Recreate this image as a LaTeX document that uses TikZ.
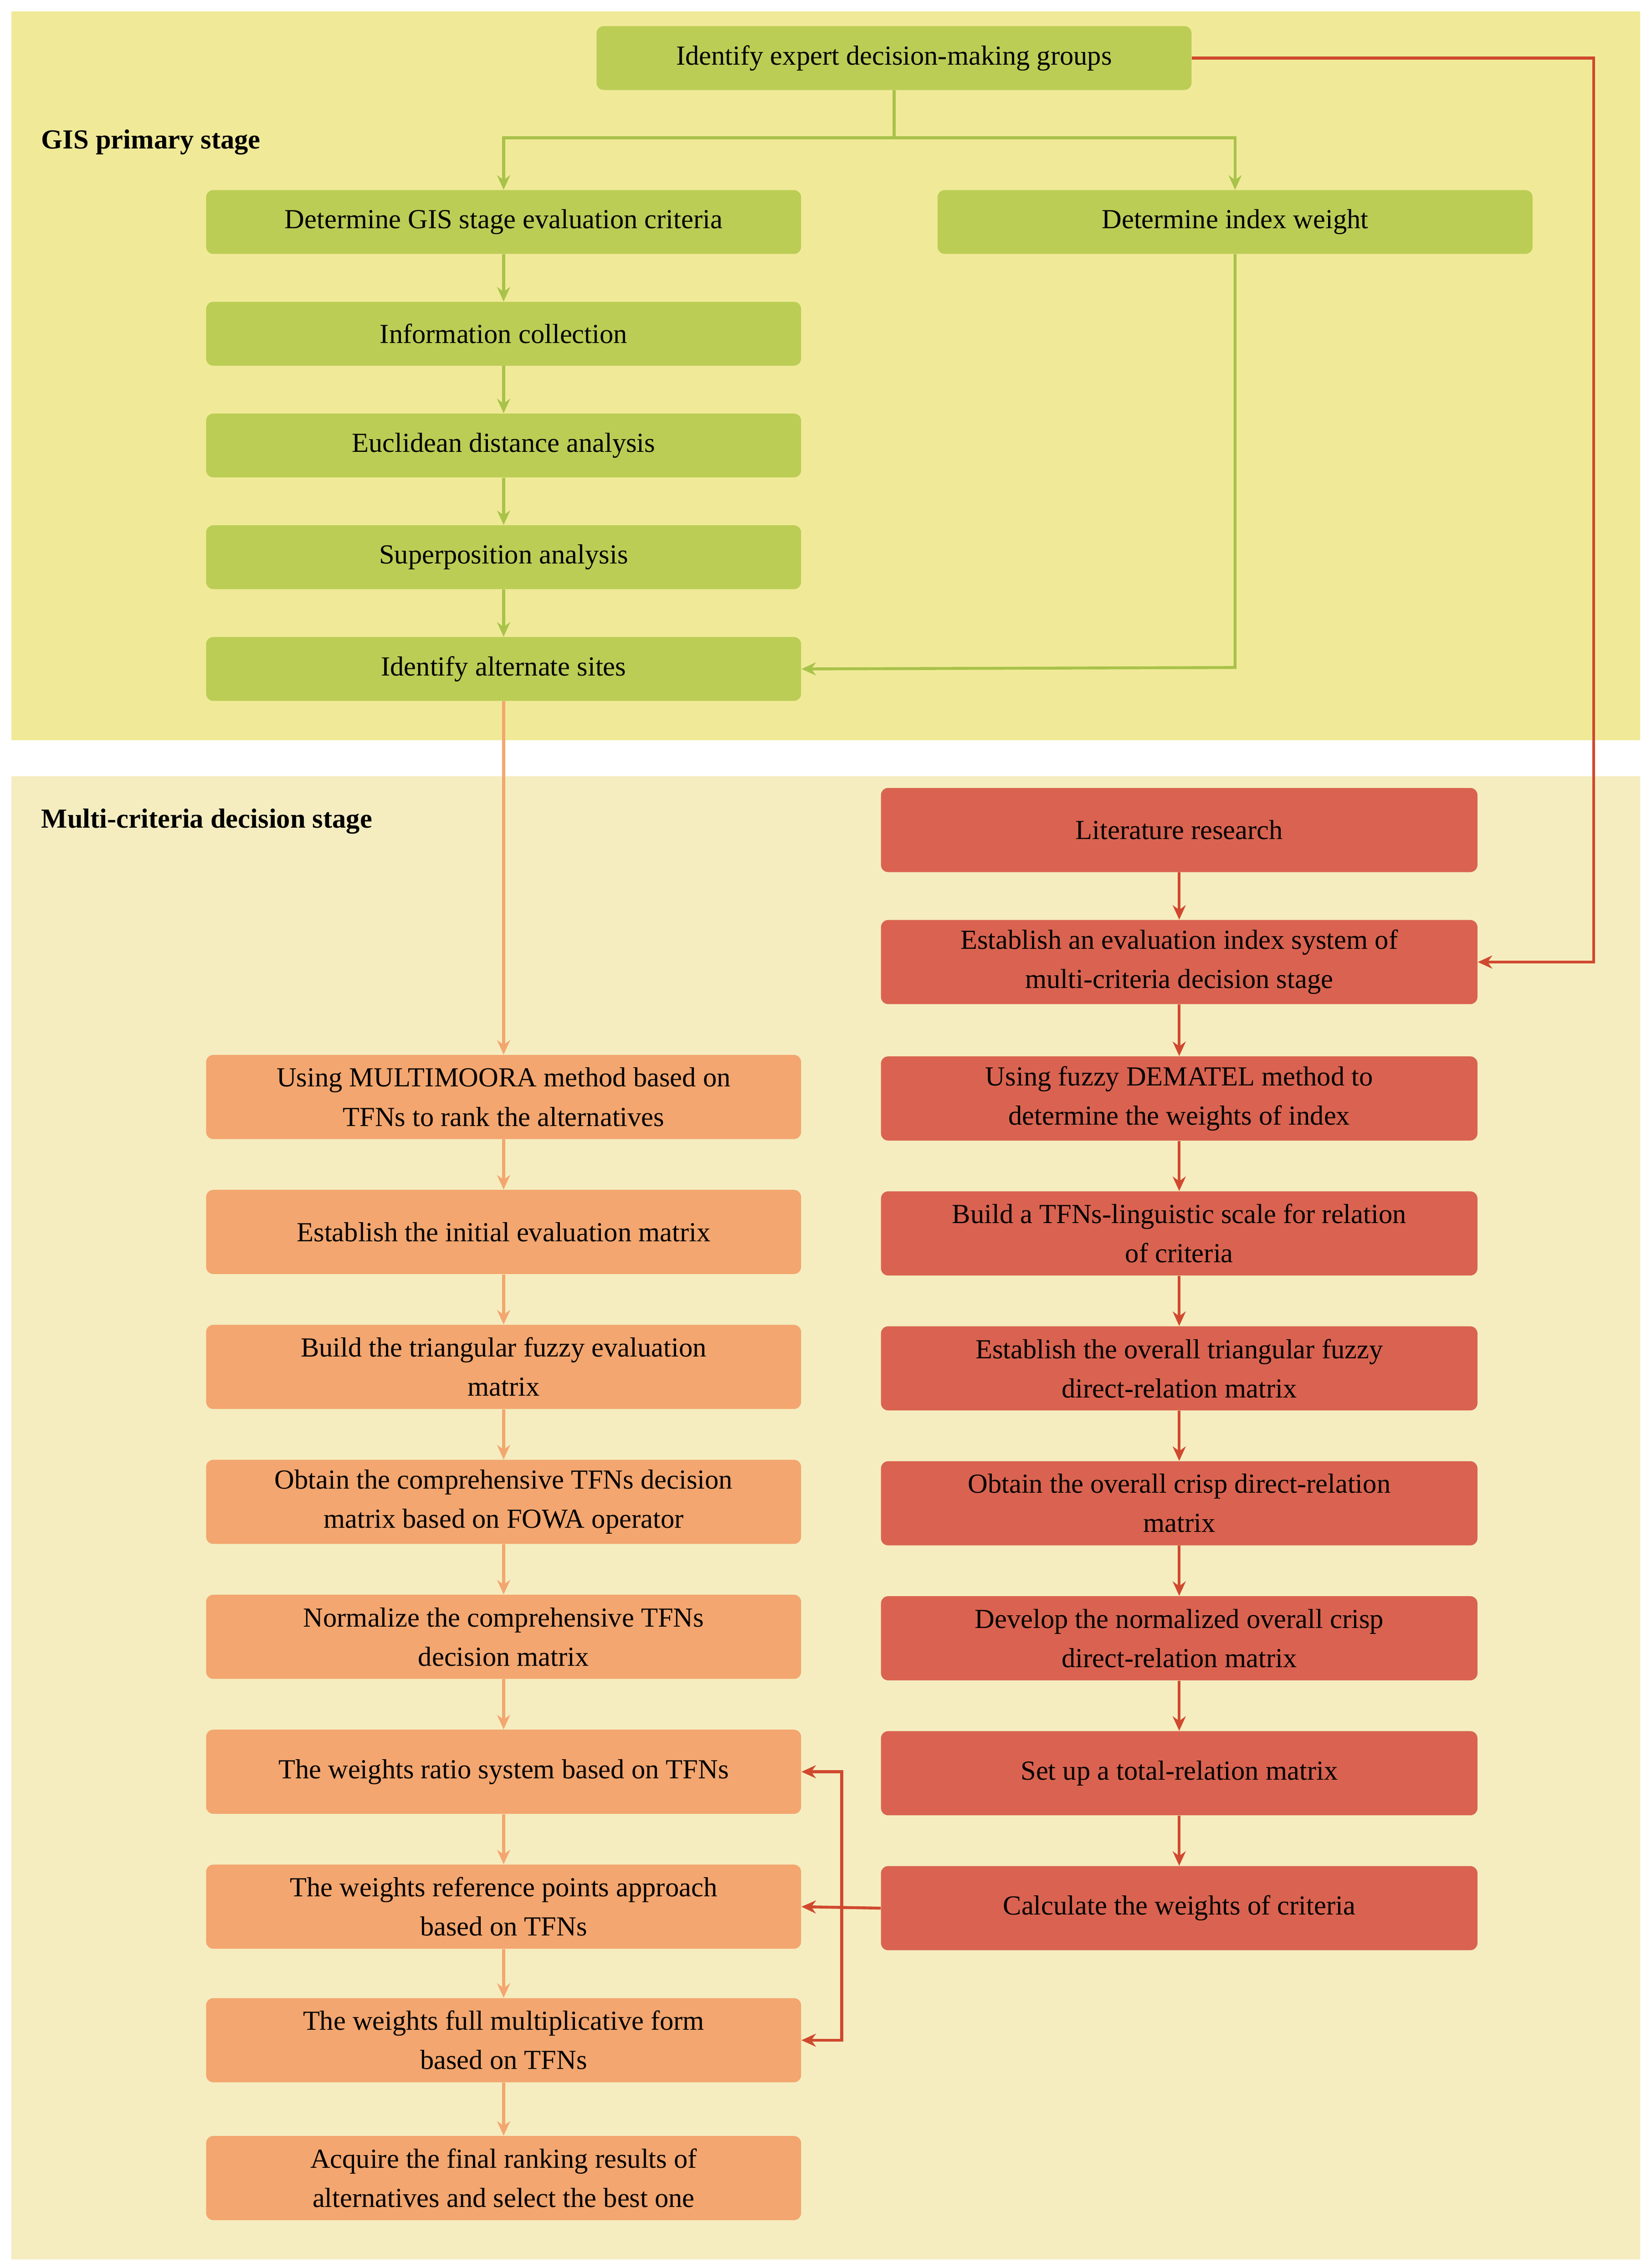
\documentclass[tikz,border=0pt]{standalone}
\usepackage{fontspec}
\setmainfont{Liberation Serif}
\usetikzlibrary{arrows.meta}
\definecolor{bgtop}{HTML}{F0EA98}
\definecolor{bgbot}{HTML}{F5EDC0}
\definecolor{gbox}{HTML}{BBCD55}
\definecolor{gline}{HTML}{A9C24A}
\definecolor{obox}{HTML}{F3A66F}
\definecolor{rbox}{HTML}{D96350}
\definecolor{rline}{HTML}{D0492F}
\begin{document}
\begin{tikzpicture}[x=1pt,y=-1pt,
  base/.style={rounded corners=5pt,align=center,font=\fontsize{19}{27}\selectfont,text=black,inner sep=0pt},
  gb/.style={base,fill=gbox,minimum width=410pt,minimum height=44pt},
  ob/.style={base,fill=obox,minimum width=410pt,minimum height=58pt},
  rb/.style={base,fill=rbox,minimum width=411pt,minimum height=58pt},
  ga/.style={draw=gline,line width=2pt,-{Stealth[length=10pt,width=9pt]}},
  oa/.style={draw=obox,line width=2pt,-{Stealth[length=10pt,width=9pt]}},
  ra/.style={draw=rline,line width=2pt,-{Stealth[length=10pt,width=9pt]}},
  lab/.style={font=\bfseries\fontsize{19}{23}\selectfont,anchor=west}]
\useasboundingbox (0,0) rectangle (1138,1563);
\fill[white] (0,0) rectangle (1138,1563);
\fill[bgtop] (8,8) rectangle (1130,510);
\fill[bgbot] (8,535) rectangle (1130,1557);
\node[lab] (l1) at (25,98) {GIS primary stage};
\node[lab] (l2) at (25,566) {Multi-criteria decision stage};
\node[gb] (t) at (616,40) {Identify expert decision-making groups};
\node[gb] (g1) at (347,153) {Determine GIS stage evaluation criteria};
\node[gb] (iw) at (851,153) {Determine index weight};
\node[gb] (g2) at (347,230) {Information collection};
\node[gb] (g3) at (347,307) {Euclidean distance analysis};
\node[gb] (g4) at (347,384) {Superposition analysis};
\node[gb] (g5) at (347,461) {Identify alternate sites};
\foreach \n/\y/\s in {r1/572/{Literature research},r2/663/{Establish an evaluation index system of\\multi-criteria decision stage},r3/757/{Using fuzzy DEMATEL method to\\determine the weights of index},r4/850/{Build a TFNs-linguistic scale for relation\\of criteria},r5/943/{Establish the overall triangular fuzzy\\direct-relation matrix},r6/1036/{Obtain the overall crisp direct-relation\\matrix},r7/1129/{Develop the normalized overall crisp\\direct-relation matrix},r8/1222/{Set up a total-relation matrix},r9/1315/{Calculate the weights of criteria}}
  \node[rb] (\n) at (812.5,\y) {\s};
\foreach \n/\y/\s in {o1/756/{Using MULTIMOORA method based on\\TFNs to rank the alternatives},o2/849/{Establish the initial evaluation matrix},o3/942/{Build the triangular fuzzy evaluation\\matrix},o4/1035/{Obtain the comprehensive TFNs decision\\matrix based on FOWA operator},o5/1128/{Normalize the comprehensive TFNs\\decision matrix},o6/1221/{The weights ratio system based on TFNs},o7/1314/{The weights reference points approach\\based on TFNs},o8/1406/{The weights full multiplicative form\\based on TFNs},o9/1501/{Acquire the final ranking results of\\alternatives and select the best one}}
  \node[ob] (\n) at (347,\y) {\s};
\coordinate (sp) at (616,95);
\draw[draw=gline,line width=2pt] (t.south) -- (sp);
\draw[ga] (sp) -| (g1.north);
\draw[ga] (sp) -| (iw.north);
\draw[ga] (g1) -- (g2);
\draw[ga] (g2) -- (g3);
\draw[ga] (g3) -- (g4);
\draw[ga] (g4) -- (g5);
\coordinate (iwc) at (851,460);
\draw[ga] (iw.south) -- (iwc) -- (g5.east);
\draw[oa] (g5.south) -- (o1.north);
\foreach \a/\b in {o1/o2,o2/o3,o3/o4,o4/o5,o5/o6,o6/o7,o7/o8,o8/o9} \draw[oa] (\a) -- (\b);
\foreach \a/\b in {r1/r2,r2/r3,r3/r4,r4/r5,r5/r6,r6/r7,r7/r8,r8/r9} \draw[ra] (\a) -- (\b);
\coordinate (tr) at (1098,40);
\draw[ra] (t.east) -- (tr) |- (r2.east);
\coordinate (vx) at (580,1314);
\draw[ra] (r9.west) -- (o7.east);
\draw[ra] (vx) |- (o6.east);
\draw[ra] (vx) |- (o8.east);
\end{tikzpicture}
\end{document}
